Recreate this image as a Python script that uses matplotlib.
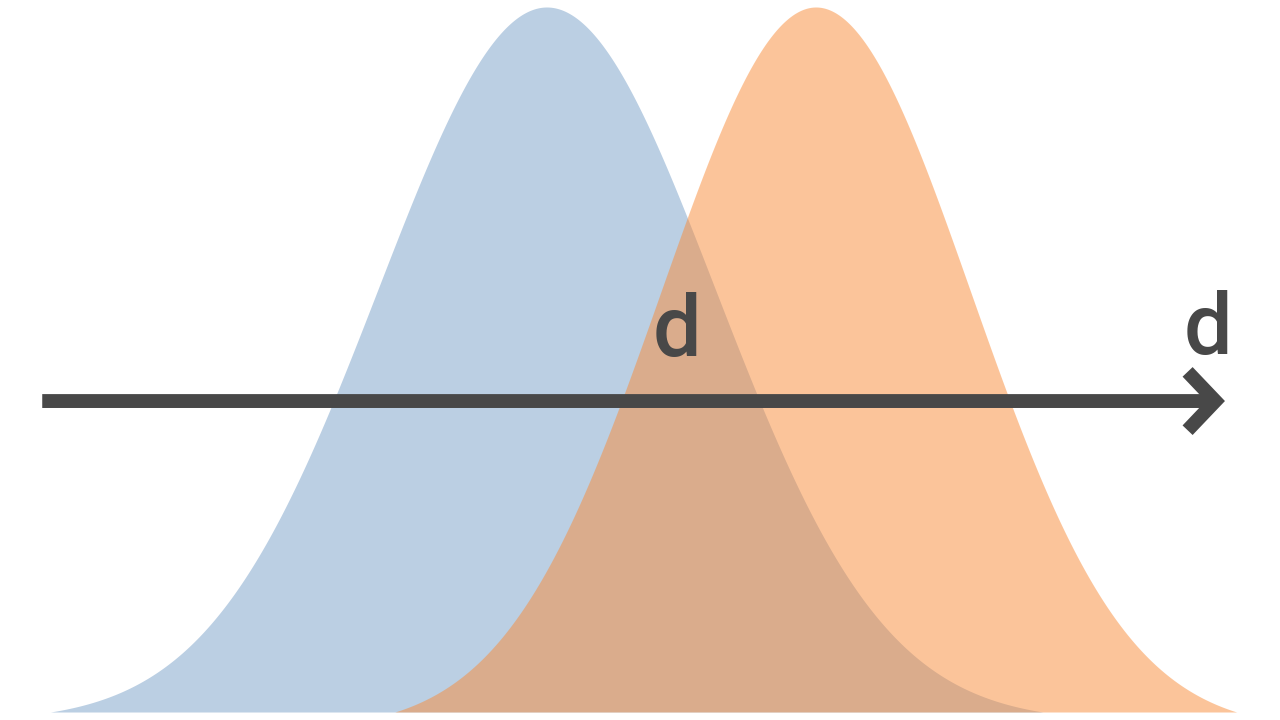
import numpy as np
import matplotlib
matplotlib.use("Agg")
import matplotlib.pyplot as plt


# Two bell curves (x in units of the first curve's standard deviation)
curve_means = [0.0, 1.60]
curve_sds = [1.0, 0.92]
curve_cutoffs = [2.95, 2.72]   # curves end this many sds from the mean
curve_colors = ["#BBCFE3", "#F98B37"]
curve_alphas = [1.0, 0.5]

# Labels for the distance d
d_labels = ["d", "d"]
d_label_x = [0.529, 0.944]   # axes fraction
d_label_y = [0.505, 0.509]


fig = plt.figure(figsize=(12.8, 7.2), dpi=100)
ax = fig.add_axes([0, 0, 1, 1])

for mean, sd, cut, color, alpha in zip(curve_means, curve_sds, curve_cutoffs,
                                       curve_colors, curve_alphas):
    z = np.linspace(-cut, cut, 600)
    floor = np.exp(-0.5 * cut ** 2)
    # bell shape dropped to zero at the cutoff, peak scaled to 1
    height = (np.exp(-0.5 * z ** 2) - floor) / (1 - floor)
    ax.fill_between(mean + z * sd, 0, height, color=color, alpha=alpha,
                    linewidth=0, zorder=2)

ax.set_xlim(-3.25, 4.36)
ax.set_ylim(-8 / 705, 1 + 7 / 705)
ax.axis("off")

# Horizontal arrow across the curves
ax.annotate("", xy=(0.957, 0.443), xytext=(0.033, 0.443),
            xycoords="axes fraction", textcoords="axes fraction",
            arrowprops=dict(arrowstyle="->,head_length=2.0,head_width=2.1",
                            color="#484848", lw=10, shrinkA=0, shrinkB=0,
                            joinstyle="miter", capstyle="butt"),
            zorder=5)

for label, lx, ly in zip(d_labels, d_label_x, d_label_y):
    ax.text(lx, ly, label, transform=ax.transAxes, ha="center", va="baseline",
            fontsize=62, fontweight="medium", family="Roboto",
            color="#484848", zorder=6)

plt.savefig("out.png", dpi=100)
